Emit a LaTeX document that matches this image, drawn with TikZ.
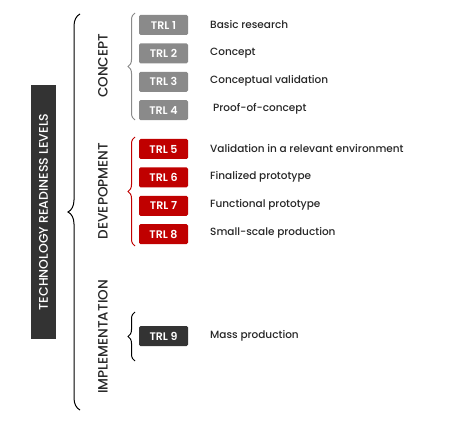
\documentclass[tikz,border=0pt]{standalone}
\usepackage{fontspec}
\setmainfont{Poppins}[UprightFont=* Medium,BoldFont=* SemiBold]
\usepackage{tikz}
\usetikzlibrary{positioning,decorations.pathreplacing}
\definecolor{trlgray}{HTML}{8A8A8A}
\definecolor{trlred}{HTML}{C00000}
\definecolor{trldark}{HTML}{333333}

\begin{document}
\begin{tikzpicture}[x=1pt,y=-1pt,
    trl/.style={rectangle,rounded corners=1.5pt,minimum width=49pt,minimum height=20pt,inner sep=0pt,text=white,font=\fontsize{11}{13}\selectfont\bfseries},
    lbl/.style={anchor=west,inner sep=0pt,text=black!85,font=\fontsize{10.5}{12}\selectfont},
    phase/.style={rotate=90,inner sep=0pt,text=black!85,font=\fontsize{13.5}{15}\selectfont},
    brc/.style={decorate,decoration={brace,amplitude=#1},line width=1pt}]
\useasboundingbox (0,0) rectangle (474,425);

% Title bar
\node[fill=trldark,minimum width=254pt,minimum height=25pt,inner sep=0pt,rotate=90,text=white,font=\fontsize{12.5}{14}\selectfont] (title) at (43.5,212) {TECHNOLOGY READINESS LEVELS};
\draw[brc=12pt] (80,410) -- (80,14);

% Phase labels
\node[phase] (concept) at (103,66) {CONCEPT};
\node[phase] (devel) at (103,191) {DEVEPOPMENT};
\node[phase] (impl) at (103,337) {IMPLEMENTATION};

% Concept
\node[trl,fill=trlgray] (t1) at (163.5,25) {TRL 1};
\node[trl,fill=trlgray,below=8pt of t1] (t2) {TRL 2};
\node[trl,fill=trlgray,below=8pt of t2] (t3) {TRL 3};
\node[trl,fill=trlgray,below=8pt of t3] (t4) {TRL 4};
\draw[brc=7pt,trlgray] (135,120) -- (135,13);

% Development
\node[trl,fill=trlred] (t5) at (163.5,149) {TRL 5};
\node[trl,fill=trlred,below=8pt of t5] (t6) {TRL 6};
\node[trl,fill=trlred,below=8pt of t6] (t7) {TRL 7};
\node[trl,fill=trlred,below=8pt of t7] (t8) {TRL 8};
\draw[brc=7pt,trlred] (135,246) -- (135,137);

% Implementation
\node[trl,fill=trldark] (t9) at (163.5,336) {TRL 9};
\draw[brc=7pt] (135,361) -- (135,312);

% Descriptions
\node[lbl] (l1) at (210,25) {Basic research};
\node[lbl] (l2) at (210,53) {Concept};
\node[lbl] (l3) at (210,81) {Conceptual validation};
\node[lbl] (l4) at (213,109) {Proof-of-concept};
\node[lbl] (l5) at (210,149) {Validation in a relevant environment};
\node[lbl] (l6) at (210,177) {Finalized prototype};
\node[lbl] (l7) at (210,205) {Functional prototype};
\node[lbl] (l8) at (210,233) {Small-scale production};
\node[lbl] (l9) at (210,336) {Mass production};

\end{tikzpicture}
\end{document}
